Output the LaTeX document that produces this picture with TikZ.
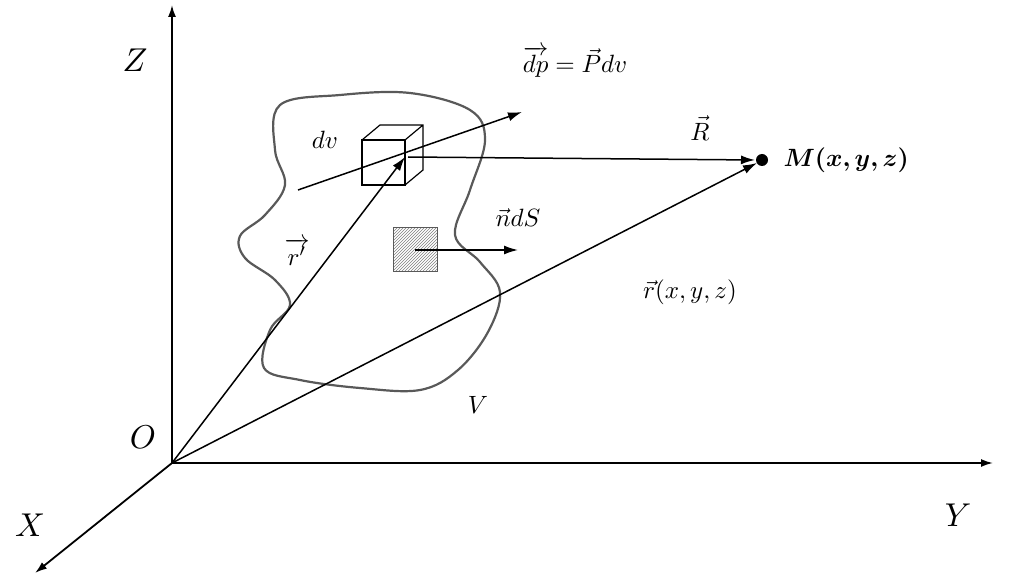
\documentclass[tikz,border=0pt]{standalone}
\usepackage{amsmath,bm}
\usetikzlibrary{arrows.meta,patterns}
\newcommand\Lb[1]{\scalebox{2.5}{$#1$}}
\newcommand\Bg[1]{\scalebox{3.3}{$#1$}}
\begin{document}
\begin{tikzpicture}[x=1pt,y=-1pt,
  ax/.style={line width=1.8pt,-{Latex[length=12pt,width=8pt]}},
  vec/.style={line width=1.5pt,-{Latex[length=14pt,width=9pt]}}]
\useasboundingbox (0,0) rectangle (1010,580);
\coordinate (O) at (172,463);
\coordinate (Ze) at (172,5);
\coordinate (Ye) at (993,463);
\coordinate (Xe) at (35,573);
\coordinate (M) at (762,160);
\coordinate (C) at (405,157);
\draw[gray!70!black,line width=2.2pt] plot[smooth cycle,tension=0.6] coordinates{
 (280,105) (340,95) (410,93) (470,110) (485,140) (470,190) (455,235) (480,262)
 (500,292) (488,332) (458,370) (420,390) (360,388) (300,380) (264,368) (270,330)
 (290,305) (275,280) (245,258) (240,236) (265,215) (285,185) (275,150)};
\draw[ax] (O) -- (Ze);
\draw[ax] (O) -- (Ye);
\draw[ax] (O) -- (Xe);
% cube
\draw[line width=1.4pt,fill=white] (362,140) rectangle (405,185);
\draw[line width=1.2pt] (362,140) -- (380,125) -- (423,125) -- (423,170) -- (405,185)
  (405,140) -- (423,125);
\coordinate (dpS) at (298,190);
\coordinate (dpE) at (522,112);
\draw[vec] (dpS) -- (dpE);
\draw[vec] (O) -- (C);
\draw[vec] (O) -- (757,163);
\draw[vec] (408,157) -- (755,160);
\fill (M) circle (6pt);
% hatched square
\node[draw=gray!70!black,line width=1pt,pattern=north east lines,pattern color=gray,minimum size=44pt,inner sep=0pt] (sq) at (415,250) {};
\draw[vec] (sq.center) -- (518,250);
% labels
\node at (135,60) {\Bg{Z}};
\node at (30,525) {\Bg{X}};
\node at (958,515) {\Bg{Y}};
\node at (143,437) {\Bg{O}};
\node at (325,140) {\Lb{dv}};
\node at (575,62) {\Lb{\overrightarrow{dp}=\vec P dv}};
\node at (700,128) {\Lb{\vec R}};
\node[anchor=west] at (780,160) {\Lb{\bm{M(x,y,z)}}};
\node at (518,218) {\Lb{\vec n dS}};
\node at (297,252) {\Lb{\overrightarrow{r'}}};
\node at (690,292) {\Lb{\vec r(x,y,z)}};
\node at (478,405) {\Lb{V}};
\end{tikzpicture}
\end{document}
